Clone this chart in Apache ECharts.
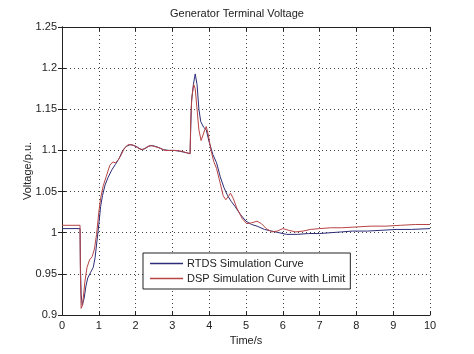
<!DOCTYPE html>
<html>
<head>
<meta charset="utf-8">
<script src="https://cdn.jsdelivr.net/npm/echarts@6/dist/echarts.min.js"></script>
<style>
  html, body { margin: 0; padding: 0; background: #fff; }
  #chart { width: 474px; height: 354px; }
</style>
</head>
<body>
<div id="chart"></div>
<script>
  // RTDS curve (time in s, voltage in p.u.)
  var tRtds = [0, 0.49, 0.5, 0.52, 0.55, 0.6, 0.65, 0.7, 0.78, 0.85, 0.9, 0.95, 1.0, 1.05, 1.1, 1.17, 1.25, 1.35, 1.45, 1.55,
    1.65, 1.75, 1.85, 1.95, 2.05, 2.15, 2.25, 2.35, 2.45, 2.6, 2.75, 2.9, 3.05, 3.2, 3.3, 3.4, 3.48, 3.5, 3.52, 3.57,
    3.62, 3.67, 3.72, 3.77, 3.85, 3.92, 4.0, 4.1, 4.2, 4.3, 4.4, 4.5, 4.6, 4.7, 4.85, 5.0, 5.15, 5.3, 5.5, 5.7,
    5.9, 6.1, 6.4, 6.7, 7.0, 7.3, 7.6, 7.9, 8.3, 8.7, 9.1, 9.5, 10];
  var vRtds = [1.005, 1.005, 0.96, 0.925, 0.912, 0.92, 0.935, 0.945, 0.952, 0.958, 0.97, 0.99, 1.01, 1.032, 1.045, 1.058, 1.067, 1.076, 1.083, 1.09,
    1.1, 1.105, 1.107, 1.106, 1.104, 1.101, 1.102, 1.105, 1.106, 1.104, 1.101, 1.1, 1.1, 1.099, 1.098, 1.097, 1.096, 1.13, 1.16, 1.18,
    1.193, 1.18, 1.15, 1.135, 1.128, 1.125, 1.11, 1.095, 1.085, 1.068, 1.055, 1.045, 1.038, 1.032, 1.022, 1.014, 1.01, 1.008, 1.004, 1.002,
    1.0, 0.998, 0.998, 0.999, 0.999, 1.0, 1.001, 1.002, 1.002, 1.003, 1.004, 1.004, 1.005];

  // DSP curve with limit
  var tDsp = [0, 0.49, 0.5, 0.52, 0.56, 0.62, 0.68, 0.75, 0.82, 0.88, 0.94, 1.0, 1.05, 1.12, 1.2, 1.3, 1.38, 1.45, 1.52, 1.6,
    1.7, 1.8, 1.9, 2.0, 2.1, 2.2, 2.3, 2.4, 2.5, 2.65, 2.8, 2.95, 3.1, 3.25, 3.4, 3.48, 3.5, 3.53, 3.58, 3.62,
    3.67, 3.72, 3.78, 3.83, 3.88, 3.92, 3.97, 4.05, 4.12, 4.2, 4.3, 4.38, 4.45, 4.52, 4.58, 4.65, 4.75, 4.9, 5.02, 5.15,
    5.3, 5.42, 5.55, 5.7, 5.85, 6.0, 6.15, 6.35, 6.55, 6.75, 7.0, 7.3, 7.6, 8.0, 8.4, 8.8, 9.2, 9.6, 10];
  var vDsp = [1.009, 1.009, 0.95, 0.908, 0.912, 0.94, 0.958, 0.967, 0.971, 0.98, 0.998, 1.025, 1.042, 1.057, 1.068, 1.082, 1.086, 1.085, 1.088, 1.094,
    1.103, 1.107, 1.107, 1.105, 1.102, 1.101, 1.104, 1.106, 1.105, 1.103, 1.1, 1.1, 1.1, 1.099, 1.097, 1.096, 1.14, 1.165, 1.18, 1.175,
    1.15, 1.125, 1.112, 1.111, 1.125, 1.129, 1.12, 1.1, 1.087, 1.078, 1.06, 1.045, 1.04, 1.044, 1.048, 1.042, 1.03, 1.017, 1.011, 1.012,
    1.014, 1.011, 1.005, 1.001, 1.002, 1.005, 1.003, 1.001, 1.002, 1.004, 1.005, 1.006, 1.006, 1.007, 1.008, 1.008, 1.009, 1.01, 1.01];

  var legendNames = ['RTDS Simulation Curve', 'DSP Simulation Curve with Limit'];

  function pairs(t, v) {
    var out = [];
    for (var i = 0; i < t.length; i++) out.push([t[i], v[i]]);
    return out;
  }

  var font = 'Liberation Sans, Arial, sans-serif';
  var dotted = {show: true, lineStyle: {color: '#444', type: [1, 3], width: 1}};

  var chart = echarts.init(document.getElementById('chart'));
  var option = {
    animation: false,
    backgroundColor: '#fff',
    title: {
      text: 'Generator Terminal Voltage',
      left: 'center', top: 8, padding: 0,
      textStyle: {fontFamily: font, fontSize: 11, fontWeight: 'normal', color: '#222'}
    },
    legend: {
      data: legendNames,
      orient: 'vertical',
      left: 143, top: 253,
      padding: [4, 5, 4, 7],
      itemGap: 2,
      itemWidth: 33, itemHeight: 1.5,
      icon: 'rect',
      borderColor: '#222', borderWidth: 1,
      backgroundColor: '#fff',
      textStyle: {fontFamily: font, fontSize: 11, color: '#222', lineHeight: 13, padding: [0, 0, 0, -1]}
    },
    grid: {left: 62, right: 44, top: 27, bottom: 39, show: false},
    xAxis: [
      {
        type: 'value', min: 0, max: 10, interval: 1,
        name: 'Time/s', nameLocation: 'middle', nameGap: 20,
        nameTextStyle: {fontFamily: font, fontSize: 11, color: '#222'},
        axisLine: {show: true, lineStyle: {color: '#222', width: 1}},
        axisTick: {show: true, inside: true, length: 4, lineStyle: {color: '#222'}},
        axisLabel: {fontFamily: font, fontSize: 11, color: '#222', margin: 5},
        splitLine: dotted
      },
      {
        type: 'value', min: 0, max: 10, interval: 1, position: 'top',
        axisLine: {show: true, lineStyle: {color: '#222', width: 1}},
        axisTick: {show: true, inside: true, length: 4, lineStyle: {color: '#222'}},
        axisLabel: {show: false},
        splitLine: {show: false}
      }
    ],
    yAxis: [
      {
        type: 'value', min: 0.9, max: 1.25, interval: 0.05,
        name: 'Voltage/p.u.', nameLocation: 'middle', nameGap: 29,
        nameMoveOverlap: false,
        nameTextStyle: {fontFamily: font, fontSize: 11, color: '#222'},
        axisLine: {show: true, lineStyle: {color: '#222', width: 1}},
        axisTick: {show: true, inside: true, length: 4, lineStyle: {color: '#222'}},
        axisLabel: {
          fontFamily: font, fontSize: 11, color: '#222', margin: 5,
          formatter: function (v) { return String(+v.toFixed(2)); }
        },
        splitLine: dotted
      },
      {
        type: 'value', min: 0.9, max: 1.25, interval: 0.05, position: 'right',
        axisLine: {show: true, lineStyle: {color: '#222', width: 1}},
        axisTick: {show: true, inside: true, length: 4, lineStyle: {color: '#222'}},
        axisLabel: {show: false},
        splitLine: {show: false}
      }
    ],
    series: [
      {
        name: legendNames[0],
        type: 'line',
        showSymbol: false,
        symbol: 'none',
        data: pairs(tRtds, vRtds),
        color: '#2c2c78',
        lineStyle: {width: 1, color: '#2c2c78'}
      },
      {
        name: legendNames[1],
        type: 'line',
        showSymbol: false,
        symbol: 'none',
        data: pairs(tDsp, vDsp),
        color: '#b84444',
        lineStyle: {width: 1, color: '#b84444'}
      }
    ]
  };
  chart.setOption(option);
</script>
</body>
</html>
